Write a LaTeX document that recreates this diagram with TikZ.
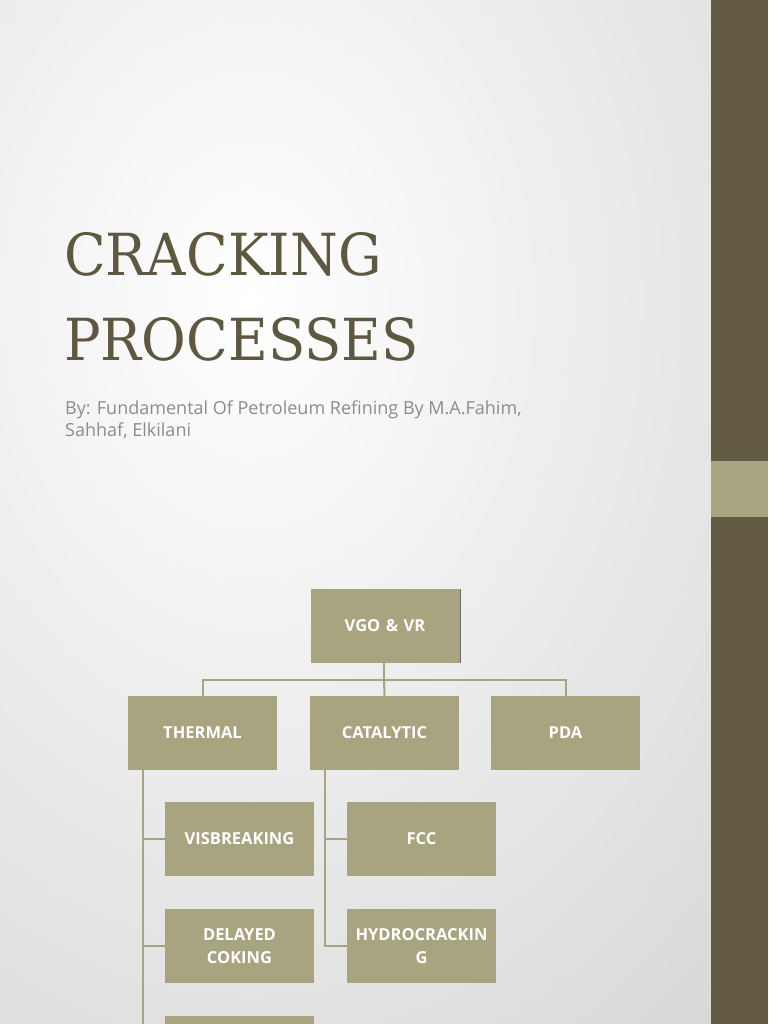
\documentclass[tikz,border=0pt]{standalone}
\usepackage{fontspec}
\setmainfont{DejaVu Serif}
\newfontfamily\boxfont{Open Sans}
\usetikzlibrary{shadows}
\definecolor{boxc}{HTML}{A8A480}
\definecolor{barc}{HTML}{635A44}
\definecolor{titc}{HTML}{5F5840}
\definecolor{bgc}{HTML}{D6D6D6}
\tikzset{
 proc/.style={fill=boxc,minimum width=149pt,minimum height=74pt,inner sep=2pt,
   text width=143pt,align=center,text=white,font=\boxfont\bfseries\fontsize{16.5}{23}\selectfont},
 link/.style={draw=boxc,line width=2pt},
 ttl/.style={anchor=base west,text=titc,font=\fontsize{58}{60}\selectfont,inner sep=0},
 sub/.style={anchor=base west,text=gray!90,font=\boxfont\fontsize{18}{22}\selectfont,inner sep=0}
}
\begin{document}
\begin{tikzpicture}[x=1pt,y=-1pt]
\clip (0,0) rectangle (768,1024);
\useasboundingbox (0,0) rectangle (768,1024);
\shade[inner color=white,outer color=bgc] (-500,-700) rectangle (1000,1300);
\fill[barc] (711,0) rectangle (768,1024);
\fill[boxc] (711,461) rectangle (768,517);
\node[ttl] (t1) at (64,275) {\scalebox{0.94}[1]{CRACKING}};
\node[ttl] (t2) at (64,360) {\scalebox{0.94}[1]{PROCESSES}};
\node[sub] (s1) at (65,414) {By: Fundamental Of Petroleum Refining By M.A.Fahim,};
\node[sub] (s2) at (65,436) {Sahhaf, Elkilani};
\node[proc,drop shadow={shadow xshift=1.5pt,shadow yshift=0pt,fill=black!70,opacity=0.8}] (vgo) at (385,626) {VGO \& VR};
\node[proc] (th) at (202.5,733) {THERMAL};
\node[proc] (ca) at (384.5,733) {CATALYTIC};
\node[proc] (pda) at (565.5,733) {PDA};
\node[proc] (vis) at (239.5,839) {VISBREAKING};
\node[proc] (fcc) at (421.5,839) {FCC};
\node[proc] (dc) at (239.5,946) {DELAYED\\COKING};
\node[proc] (hc) at (421.5,946) {HYDROCRACKIN G};
\node[proc] (x3) at (239.5,1053) {};
\coordinate (j) at (384,680);
\draw[link] (vgo.south -| j) -- (j);
\draw[link] (th.north) -- (th.north |- j) -- (pda.north |- j) -- (pda.north);
\draw[link] (j) -- (ca.north);
\coordinate (tl) at (143,770);
\coordinate (cl) at (325,770);
\draw[link] (tl) -- (143,1024);
\draw[link] (tl |- vis.west) -- (vis.west);
\draw[link] (tl |- dc.west) -- (dc.west);
\draw[link] (cl) -- (cl |- hc.west) -- (hc.west);
\draw[link] (cl |- fcc.west) -- (fcc.west);
\end{tikzpicture}
\end{document}
